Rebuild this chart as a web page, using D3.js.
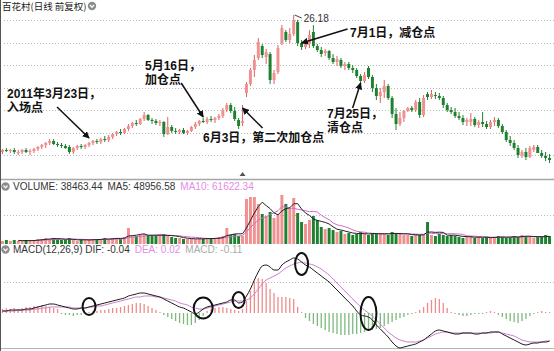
<!DOCTYPE html>
<html>
<head>
<meta charset="utf-8">
<title>百花村 日线</title>
<style>
  body { margin: 0; background: #fff; }
  svg { display: block; font-family: "Noto Sans CJK SC", "Liberation Sans", sans-serif; }
  .grid { stroke: #b8b8b8; stroke-dasharray: 1,2; }
  .note { font-family: "Liberation Sans", "Noto Sans CJK SC", sans-serif; font-size: 12px; font-weight: bold; fill: #111; }
  .hdr { font-family: "Liberation Sans", Arial, sans-serif; font-size: 10px; fill: #333; }
</style>
</head>
<body>
<div id="chart"></div>
<script src="https://cdn.jsdelivr.net/npm/d3@7/dist/d3.min.js"></script>
<script>
// daily bars [open, high, low, close]
const ohlc = [
  [12.48,12.78,12.28,12.68],[12.68,12.88,12.48,12.58],[12.58,12.78,12.38,12.68],[12.68,12.88,12.28,12.48],
  [12.38,12.68,12.18,12.48],[12.48,12.78,12.28,12.68],[12.68,12.88,12.38,12.48],[12.48,12.78,12.18,12.58],
  [12.58,12.88,12.38,12.78],[12.78,13.08,12.58,12.98],[12.98,13.28,12.78,13.18],[13.18,13.48,12.88,13.38],
  [13.38,13.78,13.18,13.58],[13.58,13.78,13.18,13.28],[13.28,13.48,12.98,13.18],[13.18,13.38,12.88,13.08],
  [13.08,13.28,12.78,12.88],[12.98,13.18,12.28,12.48],[12.48,12.98,12.28,12.88],[12.88,13.18,12.68,13.08],
  [13.08,13.28,12.78,12.98],[12.98,13.28,12.78,13.18],[13.18,13.48,12.98,13.38],[13.38,13.68,13.18,13.58],
  [13.58,13.78,13.28,13.48],[13.48,13.88,13.28,13.78],[13.78,14.08,13.48,13.68],[13.68,14.18,13.48,13.98],
  [13.98,14.38,13.78,14.28],[14.28,14.58,14.08,14.48],[14.48,14.78,14.18,14.38],[14.38,14.88,14.28,14.78],
  [14.78,15.28,14.58,15.08],[15.08,15.48,14.88,15.38],[15.38,15.68,15.08,15.28],[15.28,15.88,15.18,15.78],
  [15.78,16.48,15.58,16.18],[16.18,16.28,15.58,15.68],[15.68,15.88,15.28,15.58],[15.58,15.78,15.18,15.38],
  [15.38,15.68,15.08,15.48],[15.48,15.58,13.98,14.28],[14.28,15.98,14.18,14.98],[14.98,15.18,14.38,14.58],
  [14.58,14.88,14.28,14.48],[14.48,14.78,14.28,14.68],[14.68,14.88,14.28,14.38],[14.38,14.68,14.18,14.58],
  [14.58,15.08,14.48,14.98],[14.98,15.48,14.78,15.28],[15.28,15.68,15.08,15.58],[15.58,15.88,15.38,15.48],
  [15.48,15.98,15.28,15.78],[15.78,16.08,15.48,15.68],[15.68,15.98,15.38,15.88],[15.88,16.28,15.68,16.08],
  [16.08,16.88,15.88,16.68],[16.68,17.38,16.48,17.18],[17.18,17.38,16.38,16.58],[16.58,16.98,15.58,15.78],
  [15.68,15.88,14.78,15.08],[15.38,17.18,15.08,15.58],[18.38,19.48,17.98,19.28],[19.28,20.88,19.08,20.68],
  [20.68,22.18,19.98,21.68],[21.88,23.88,21.68,23.48],[23.08,23.28,21.88,22.18],[21.98,22.78,21.28,22.48],
  [22.28,22.48,19.28,19.68],[19.68,20.68,19.28,20.38],[20.48,23.18,20.28,22.88],[23.38,25.18,23.18,24.88],
  [24.48,24.68,23.48,23.68],[23.68,24.88,23.38,24.28],[24.28,26.18,24.08,25.68],[25.48,25.68,23.08,23.38],
  [23.38,23.68,22.68,22.98],[22.98,23.58,22.78,23.28],[23.28,24.68,22.88,24.18],[24.48,25.18,22.88,23.08],
  [23.08,23.28,22.48,22.68],[22.68,22.98,21.98,22.28],[22.38,22.78,22.08,22.58],[22.58,22.68,21.68,21.88],
  [21.88,22.28,21.28,21.48],[21.48,22.08,21.08,21.78],[21.68,21.88,20.88,21.08],[21.08,21.48,20.68,21.28],
  [21.28,21.48,20.68,20.88],[20.88,21.18,20.38,20.68],[20.68,20.88,19.88,20.08],[20.08,20.28,19.28,19.58],
  [19.58,20.48,19.38,20.18],[20.88,21.08,19.78,19.98],[19.98,20.18,18.48,18.88],[18.88,19.28,17.68,18.08],
  [18.08,18.88,17.38,18.48],[18.48,19.68,17.88,19.08],[19.08,19.28,17.68,17.88],[17.88,18.08,15.88,16.28],
  [16.28,16.88,14.68,15.28],[15.28,16.48,15.08,15.88],[15.88,16.68,15.48,16.58],[16.58,16.98,16.48,16.88],
  [16.88,17.08,16.48,16.68],[16.68,17.68,16.48,17.48],[17.48,17.88,15.88,16.18],[16.18,18.18,15.98,17.88],
  [18.28,18.48,17.68,17.98],[17.98,18.68,17.78,18.28],[18.18,18.48,17.78,18.08],[18.08,18.38,17.68,17.88],
  [17.88,18.08,16.88,17.18],[17.18,17.38,16.48,16.68],[16.68,16.98,16.28,16.48],[16.48,16.88,15.88,16.08],
  [16.08,16.48,15.68,15.88],[15.88,16.18,15.18,15.48],[15.48,15.88,15.08,15.68],[15.48,16.38,15.08,15.78],
  [15.78,15.98,14.98,15.18],[15.18,15.68,14.88,15.48],[15.48,16.48,14.98,15.28],[15.28,15.58,14.78,14.98],
  [14.98,15.68,14.78,15.48],[15.48,15.98,15.08,15.68],[15.68,15.88,14.88,15.08],[15.08,15.28,14.28,14.48],
  [14.48,14.68,13.48,13.68],[13.68,14.08,13.08,13.38],[13.38,13.68,12.68,12.88],[12.88,13.18,11.88,12.18],
  [12.18,12.68,11.88,12.48],[12.48,12.88,11.68,11.98],[11.98,13.08,11.88,12.88],[12.68,13.18,12.48,12.98],
  [12.98,13.18,12.38,12.38],[12.38,12.68,11.88,12.08],[12.08,12.48,11.58,11.88],[11.88,12.28,11.38,11.68]
];

const volume = [
  10500,14000,10500,14000,10500,10500,14000,10500,14000,17500,17500,21000,
  17500,21000,17500,14000,14000,21000,
  14000,10500,14000,14000,17500,17500,14000,17500,21000,17500,21000,21000,17500,
  24500,56000,28000,
  28000,31500,35000,31500,28000,28000,31500,35000,28000,24500,21000,21000,17500,17500,
  17500,17500,21000,17500,21000,17500,21000,24500,28000,
  56000,31500,35000,28000,28000,
  157500,164500,164500,140000,105000,98000,112000,91000,105000,
  171500,140000,126000,161000,108500,77000,70000,84000,98000,84000,
  59500,52500,56000,49000,
  42000,45500,35000,38500,31500,35000,42000,35000,31500,38500,35000,
  38500,35000,31500,42000,38500,35000,31500,31500,28000,35000,31500,35000,
  77000,31500,28000,35000,31500,28000,31500,28000,
  24500,21000,24500,28000,21000,24500,21000,24500,21000,24500,28000,24500,
  21000,24500,28000,24500,31500,28000,24500,21000,24500,28000,31500,28000
];

const dif = [
  0.04,0.04,0.06,0.06,0.06,0.06,0.08,0.08,0.10,0.12,
  0.14,0.16,0.18,0.18,0.16,0.14,0.12,0.10,0.08,0.08,
  0.10,0.10,0.12,0.14,0.16,0.18,0.20,0.22,0.24,0.26,
  0.28,0.30,0.34,0.36,0.38,0.40,0.40,0.38,0.36,0.34,
  0.32,0.28,0.24,0.20,0.16,0.12,0.10,0.06,0.02,-0.02,
  0.02,0.08,0.12,0.14,0.16,0.18,0.20,0.22,0.26,0.26,
  0.20,0.22,0.34,0.48,0.66,0.82,0.94,0.96,0.92,0.86,
  0.86,0.96,1.02,1.06,1.10,1.08,1.02,0.96,0.92,0.86,
  0.80,0.74,0.68,0.62,0.54,0.46,0.38,0.30,0.22,0.14,
  0.04,-0.04,-0.06,-0.08,-0.14,-0.24,-0.32,-0.40,-0.48,-0.58,
  -0.66,-0.70,-0.68,-0.66,-0.64,-0.62,-0.58,-0.54,-0.48,-0.42,
  -0.36,-0.34,-0.36,-0.38,-0.40,-0.42,-0.42,-0.40,-0.40,-0.40,
  -0.42,-0.42,-0.40,-0.40,-0.38,-0.38,-0.38,-0.42,-0.46,-0.50,
  -0.54,-0.58,-0.62,-0.64,-0.62,-0.60,-0.60,-0.58,-0.58,-0.56
];

const dea = [
  0.04,0.04,0.04,0.04,0.06,0.06,0.06,0.06,0.08,0.08,
  0.10,0.10,0.12,0.12,0.12,0.12,0.12,0.12,0.10,0.10,
  0.10,0.10,0.12,0.12,0.14,0.14,0.16,0.18,0.20,0.22,
  0.24,0.26,0.28,0.30,0.32,0.32,0.34,0.34,0.34,0.32,
  0.32,0.30,0.28,0.26,0.24,0.20,0.18,0.16,0.12,0.10,
  0.08,0.08,0.10,0.12,0.14,0.16,0.18,0.20,0.22,0.24,
  0.24,0.24,0.26,0.30,0.38,0.48,0.58,0.66,0.70,0.74,
  0.78,0.84,0.90,0.94,0.98,1.00,1.02,1.00,0.98,0.96,
  0.92,0.88,0.82,0.76,0.68,0.60,0.52,0.44,0.36,0.28,
  0.20,0.12,0.06,0.00,-0.06,-0.14,-0.22,-0.30,-0.38,-0.44,
  -0.50,-0.54,-0.56,-0.58,-0.58,-0.58,-0.56,-0.54,-0.50,-0.46,
  -0.42,-0.40,-0.38,-0.38,-0.40,-0.40,-0.40,-0.40,-0.40,-0.40,
  -0.40,-0.40,-0.40,-0.40,-0.40,-0.38,-0.38,-0.40,-0.42,-0.44,
  -0.46,-0.50,-0.54,-0.56,-0.58,-0.58,-0.58,-0.58,-0.56,-0.56
];

const macd = [
  0.08,0.10,0.08,0.10,0.08,
  0.10,0.12,0.12,0.14,0.14,0.16,0.14,0.12,0.10,0.08,
  -0.02,-0.04,-0.04,-0.06,-0.04,-0.04,-0.02,
  0.02,0.04,0.04,0.06,0.06,0.08,0.10,0.10,0.12,0.14,0.16,0.18,0.20,0.20,0.18,
  0.14,0.10,0.06,0.02,
  -0.04,-0.08,-0.12,-0.16,-0.20,-0.22,-0.24,-0.24,-0.20,-0.14,-0.06,
  0.04,0.08,0.10,0.12,0.12,0.10,0.08,0.06,0.04,0.08,
  0.24,0.44,0.64,0.70,0.68,0.60,0.48,0.40,
  0.32,0.32,0.32,0.30,0.28,0.12,0.02,
  -0.10,-0.16,-0.22,-0.26,-0.30,-0.34,-0.38,-0.40,-0.42,-0.44,
  -0.44,-0.44,-0.42,-0.42,-0.40,-0.38,-0.36,-0.34,-0.32,-0.30,
  -0.26,-0.22,-0.18,-0.14,-0.10,-0.08,-0.04,-0.02,
  0.02,0.06,0.12,0.20,0.26,0.30,0.28,0.20,0.10,0.02,
  -0.02,-0.04,-0.06,-0.06,-0.04,-0.02,-0.02,
  -0.02,0.02,0.04,0.02,
  -0.04,-0.08,-0.12,-0.16,-0.18,-0.20,-0.16,-0.12,
  -0.06,-0.02,0.02,0.04,0.02,0.02
];

const gridPrices = [25.68, 23.43, 21.18, 18.93, 16.68, 14.43, 12.18];
const gridVolume = [100000];
const gridMacd = [0.62];
const peakPrice = 26.18;

const title = "百花村(日线 前复权)";
const volHeader = [["VOLUME: 38463.44", "#333"], ["MA5: 48956.58", "#333"], ["MA10: 61622.34", "#e58be5"]];
const macdHeader = [["MACD(12,26,9) DIF: -0.04", "#333"], ["DEA: 0.02", "#e58be5"], ["MACD: -0.11", "#aaa"]];

// annotations: arrow tip at [day, price]
const notes = [
  { lines: ["2011年3月23日，", "入场点"], x: 7, y: 98, tip: [22, 13.88], tail: [-32, -31] },
  { lines: ["5月16日，", "加仓点"], x: 145, y: 70, tip: [51, 15.98], tail: [-22, -34] },
  { lines: ["6月3日，第二次加仓点"], x: 203, y: 142, tip: [61, 16.88], tail: [20, 20] },
  { lines: ["7月1日，减仓点"], x: 350, y: 37, tip: [76, 23.38], tail: [46, -14] },
  { lines: ["7月25日，", "清仓点"], x: 327, y: 118, tip: [91, 19.38], tail: [-8, 25] }
];
// ellipses drawn on the MACD panel: [day, value, rx, ry]
const rings = [[22, 0.13, 6.5, 8.5], [51, 0.10, 9.5, 10.5], [60, 0.26, 6, 8], [76, 0.98, 6.5, 11], [93, -0.01, 8, 16.5]];

const W = 554, H = 351;
const svg = d3.select("#chart").append("svg").attr("width", W).attr("height", H);

const days = d3.range(ohlc.length);
const x = d3.scaleBand().domain(days).range([0, 552]).padding(0.25);
const cx = i => x(i) + x.bandwidth() / 2;
const yP = d3.scaleLinear().domain([9.68, 27.68]).range([180, 0]);
const yV = d3.scaleLinear().domain([0, 182000]).range([244, 192]);
const yM = d3.scaleLinear().domain([-0.72, 1.24]).range([349, 251]);

const UP = "#f09090", UP_LINE = "#e06060", DOWN = "#1f8030";
const isUp = d => d[3] >= d[0];

// grid lines
const gridRows = [].concat(gridPrices.map(yP), gridVolume.map(yV), gridMacd.map(yM));
svg.selectAll(".grid").data(gridRows).join("line").attr("class", "grid")
  .attr("x1", 4).attr("x2", W).attr("y1", d => Math.round(d) + 0.5).attr("y2", d => Math.round(d) + 0.5);

// frame
svg.append("line").attr("x1", 0).attr("x2", W).attr("y1", 179.5).attr("y2", 179.5).attr("stroke", "#a6a6a6").attr("stroke-width", 1.5);
svg.append("line").attr("x1", 0).attr("x2", W).attr("y1", 348.5).attr("y2", 348.5).attr("stroke", "#b5b5b5");
svg.append("line").attr("x1", 0.5).attr("x2", 0.5).attr("y1", 0).attr("y2", H).attr("stroke", "#555");

// candles
const cg = svg.append("g");
cg.selectAll("line").data(ohlc).join("line")
  .attr("x1", (d, i) => cx(i)).attr("x2", (d, i) => cx(i))
  .attr("y1", d => yP(d[1])).attr("y2", d => yP(d[2]))
  .attr("stroke", d => isUp(d) ? UP_LINE : DOWN);
cg.selectAll("rect").data(ohlc).join("rect")
  .attr("x", (d, i) => x(i)).attr("width", x.bandwidth())
  .attr("y", d => yP(Math.max(d[0], d[3])))
  .attr("height", d => Math.max(1, Math.abs(yP(d[0]) - yP(d[3]))))
  .attr("fill", d => isUp(d) ? UP : DOWN);

// peak label
const pk = ohlc.findIndex(d => d[1] === peakPrice);
svg.append("line").attr("x1", cx(pk) + 1).attr("y1", yP(peakPrice)).attr("x2", cx(pk) + 8).attr("y2", yP(peakPrice) + 3)
  .attr("stroke", "#444");
svg.append("text").attr("class", "hdr").attr("x", cx(pk) + 10).attr("y", yP(peakPrice) + 7).text(peakPrice.toFixed(2));

// volume bars
svg.append("g").selectAll("rect").data(volume).join("rect")
  .attr("x", (d, i) => x(i)).attr("width", x.bandwidth())
  .attr("y", d => yV(d)).attr("height", d => yV(0) - yV(d))
  .attr("fill", (d, i) => isUp(ohlc[i]) ? UP : DOWN);

const movingAvg = n => volume.map((v, i) => i < n - 1 ? null : d3.mean(volume.slice(i - n + 1, i + 1)));
const volLine = d3.line().defined(d => d !== null).x((d, i) => cx(i)).y(d => yV(d));
svg.append("path").attr("d", volLine(movingAvg(10))).attr("fill", "none").attr("stroke", "#d06cd0");
svg.append("path").attr("d", volLine(movingAvg(5))).attr("fill", "none").attr("stroke", "#222");

// MACD histogram
svg.append("g").selectAll("line").data(macd).join("line")
  .attr("x1", (d, i) => cx(i)).attr("x2", (d, i) => cx(i))
  .attr("y1", yM(0)).attr("y2", d => yM(d))
  .attr("stroke", d => d >= 0 ? "#ee8c8c" : "#7db87d").attr("stroke-width", 1.3);

const mLine = d3.line().x((d, i) => cx(i)).y(d => yM(d)).curve(d3.curveMonotoneX);
svg.append("path").attr("d", mLine(dea)).attr("fill", "none").attr("stroke", "#cc7fcc");
svg.append("path").attr("d", mLine(dif)).attr("fill", "none").attr("stroke", "#1a1a1a");

svg.append("g").selectAll("ellipse").data(rings).join("ellipse")
  .attr("cx", d => cx(d[0])).attr("cy", d => yM(d[1])).attr("rx", d => d[2]).attr("ry", d => d[3])
  .attr("fill", "none").attr("stroke", "#111").attr("stroke-width", 2);

// small marker under the price panel
svg.append("path").attr("d", `M${cx(61) - 3},176 L${cx(61) + 3},176 L${cx(61)},172 Z`).attr("fill", "#555");

// headers
function icon(cxp, cyp) {
  svg.append("circle").attr("cx", cxp).attr("cy", cyp).attr("r", 4.2).attr("fill", "#8c8c8c");
  svg.append("path").attr("d", `M${cxp - 2},${cyp - 1} L${cxp},${cyp + 1.3} L${cxp + 2},${cyp - 1}`)
    .attr("fill", "none").attr("stroke", "#fff").attr("stroke-width", 1.2);
}
svg.append("text").attr("x", 2).attr("y", 10).attr("font-size", 9.5).attr("fill", "#222").text(title);
icon(92, 6);

function header(parts, y0) {
  icon(5.5, y0 - 3.5);
  const t = svg.append("text").attr("class", "hdr").attr("x", 13).attr("y", y0);
  parts.forEach((p, k) => t.append("tspan").attr("dx", k ? 5 : 0).attr("fill", p[1]).text(p[0]));
}
header(volHeader, 190);
header(macdHeader, 253);

// arrows and notes
svg.append("defs").append("marker").attr("id", "ah").attr("viewBox", "0 0 10 10")
  .attr("refX", 9).attr("refY", 5).attr("markerWidth", 7).attr("markerHeight", 7)
  .attr("markerUnits", "userSpaceOnUse").attr("orient", "auto")
  .append("path").attr("d", "M0,0 L10,5 L0,10 Z").attr("fill", "#111");

notes.forEach(n => {
  const tx = cx(n.tip[0]), ty = yP(n.tip[1]);
  svg.append("line").attr("x1", tx + n.tail[0]).attr("y1", ty + n.tail[1]).attr("x2", tx).attr("y2", ty)
    .attr("stroke", "#111").attr("stroke-width", 1.5).attr("marker-end", "url(#ah)");
  n.lines.forEach((s, k) => svg.append("text").attr("class", "note").attr("x", n.x).attr("y", n.y + k * 14).text(s));
});
</script>
</body>
</html>
